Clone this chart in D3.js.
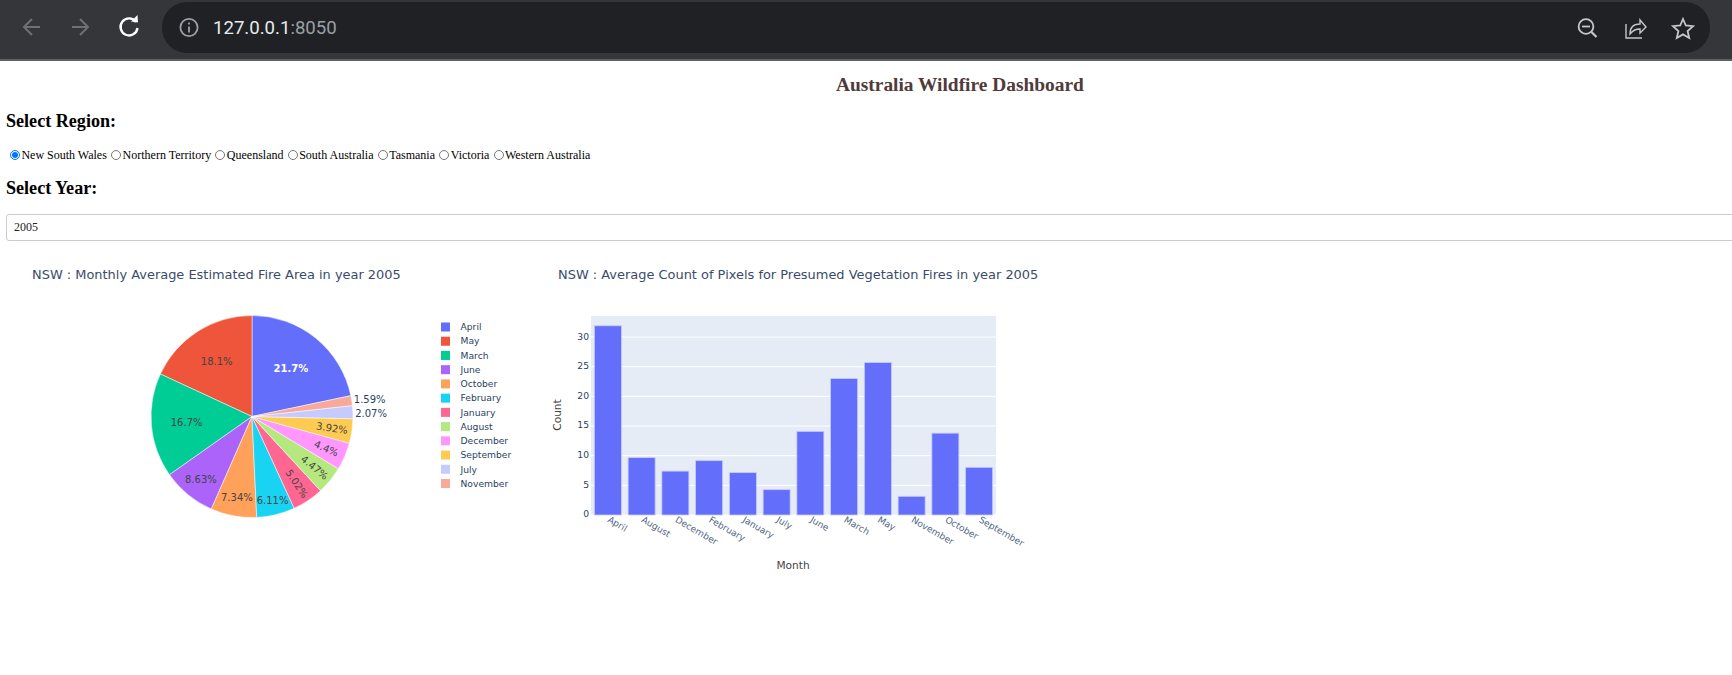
<!DOCTYPE html>
<html lang="en">
<head>
<meta charset="UTF-8">
<title>Australia Wildfire Dashboard</title>
<script src="https://d3js.org/d3.v7.min.js"></script>
<style>
  html, body { margin: 0; padding: 0; background: #fff; width: 1732px; height: 675px; overflow: hidden; }
  body { font-family: "Liberation Serif", serif; position: relative; }
  #browser { position: absolute; left: 0; top: 0; }
  h1, h3 { position: absolute; margin: 0; white-space: nowrap; }
  h1 { left: 836px; top: 74px; font-size: 19.4px; line-height: 22px; color: #503a3a; }
  h3 { left: 6px; font-size: 18.1px; line-height: 20px; color: #000; }
  #regions { position: absolute; left: 9px; top: 147px; font-size: 12px; line-height: 16px; white-space: nowrap; display: flex; align-items: center; }
  #regions label { display: flex; align-items: center; margin-right: 3.3px; }
  #regions input { width: 10px; height: 10px; margin: 0 1.4px 0 1px; }
  #year { position: absolute; left: 6px; top: 214px; width: 1800px; height: 27px; border: 1px solid #ccc; border-radius: 3px; box-sizing: border-box; padding-left: 7px; font: 12px "Liberation Serif", serif; color: #222; line-height: 24px; }
  #charts { position: absolute; left: 0; top: 0; }
  #charts text { font-family: "DejaVu Sans", Verdana, sans-serif; }
</style>
</head>
<body>
<svg id="browser" width="1732" height="62"></svg>
<h1>Australia Wildfire Dashboard</h1>
<h3 style="top:111px">Select Region:</h3>
<div id="regions"></div>
<h3 style="top:178px">Select Year:</h3>
<div id="year"></div>
<svg id="charts" width="1732" height="675"></svg>

<script>
  // page controls
  var regions = ['New South Wales', 'Northern Territory', 'Queensland', 'South Australia', 'Tasmania', 'Victoria', 'Western Australia'];
  var selectedYear = '2005';

  // pie chart, legend order
  var pieMonths = ['April', 'May', 'March', 'June', 'October', 'February', 'January', 'August', 'December', 'September', 'July', 'November'];
  var pieShares = [21.7, 18.1, 16.7, 8.63, 7.34, 6.11, 5.02, 4.47, 4.4, 3.92, 2.07, 1.59];
  var pieColors = ['#636efa', '#ef553b', '#00cc96', '#ab63fa', '#ffa15a', '#19d3f3', '#ff6692', '#b6e880', '#ff97ff', '#fecb52', '#c6cbff', '#f9a99c'];

  // bar chart
  var barMonths = ['April', 'August', 'December', 'February', 'January', 'July', 'June', 'March', 'May', 'November', 'October', 'September'];
  var barCounts = [31.9, 9.67, 7.4, 9.16, 7.14, 4.27, 14.1, 23.0, 25.7, 3.15, 13.8, 8.04];
  var countTicks = [0, 5, 10, 15, 20, 25, 30];

  var pieTitle = 'NSW : Monthly Average Estimated Fire Area in year 2005';
  var barTitle = 'NSW : Average Count of Pixels for Presumed Vegetation Fires in year 2005';

  // browser chrome around the page
  function drawBrowser() {
    var svg = d3.select('#browser');
    svg.append('rect').attr('width', 1732).attr('height', 59).attr('fill', '#35363a');
    svg.append('rect').attr('y', 59).attr('width', 1732).attr('height', 2).attr('fill', '#5f6064');
    svg.append('rect').attr('x', 162).attr('y', 2).attr('width', 1548).attr('height', 51).attr('rx', 25).attr('fill', '#202124');

    var line = function(d, color, w, dx) {
      svg.append('path').attr('d', d).attr('fill', 'none').attr('stroke', color).attr('stroke-width', w || 2)
        .attr('transform', 'translate(' + (dx || 0) + ',0)');
    };
    line('M36 27H21M28 19l-8 8 8 8', '#6f7073', 2, 4);
    line('M61 27H76M69 19l8 8-8 8', '#6f7073', 2, 11);
    line('M117 22a8.5 8.5 0 1 0 1.5 6', '#ffffff', 2.4, 19);
    svg.append('path').attr('d', 'M131 21.5L138 22.5L137.5 15Z').attr('fill', '#fff');
    svg.append('circle').attr('cx', 189).attr('cy', 27.5).attr('r', 8.6).attr('fill', 'none').attr('stroke', '#9aa0a6').attr('stroke-width', 1.8);
    line('M189 26.5V32.5M189 22.5V24.6', '#9aa0a6', 1.8);

    var url = svg.append('text').attr('x', 213).attr('y', 34).attr('font-family', 'Roboto, sans-serif').attr('font-size', 18.6);
    url.append('tspan').attr('fill', '#e8eaed').text('127.0.0.1');
    url.append('tspan').attr('fill', '#9aa0a6').text(':8050');

    svg.append('circle').attr('cx', 1586).attr('cy', 26.5).attr('r', 7.4).attr('fill', 'none').attr('stroke', '#c4c7c9').attr('stroke-width', 1.8);
    line('M1582 26.5H1590', '#c4c7c9', 1.8);
    line('M1591.5 32L1596.5 37', '#c4c7c9', 2.2);
    line('M1618 24V38H1634', '#c4c7c9', 1.4, 8);
    line('M1622 34C1622 27 1626 24 1632 24V20L1638 27L1632 33V29C1628 29 1625 30 1622 34Z', '#c4c7c9', 1.4, 8);
    line('M1674 19L1676.8 25.5L1684 26.2L1678.6 31L1680.2 38L1674 34.4L1667.8 38L1669.4 31L1664 26.2L1671.2 25.5Z', '#c4c7c9', 1.8, 9);
  }

  function drawControls() {
    var labels = d3.select('#regions').selectAll('label').data(regions).enter().append('label');
    labels.append('input').attr('type', 'radio').attr('name', 'region').property('checked', function(d, i) { return i === 0; });
    labels.append('span').text(function(d) { return d; });
    d3.select('#year').text(selectedYear);
  }

  function drawPie(svg) {
    var radius = 101;
    var g = svg.append('g').attr('transform', 'translate(252,416.5)');
    var total = d3.sum(pieShares);
    var start = 2 * Math.PI * pieShares[0] / total;

    // first slice ends at 12 o'clock, the rest run counter-clockwise from there
    var pie = d3.pie().sort(null).startAngle(start).endAngle(start - 2 * Math.PI);
    var arcs = pie(pieShares);
    var arc = d3.arc().innerRadius(0).outerRadius(radius);

    g.selectAll('path').data(arcs).enter().append('path')
      .attr('d', arc)
      .attr('fill', function(d, i) { return pieColors[i]; })
      .attr('stroke', '#fff')
      .attr('stroke-width', 0.5);

    var fmt = d3.format('.3~r');
    g.selectAll('text').data(arcs).enter().append('text')
      .attr('text-anchor', 'middle')
      .attr('dy', '0.35em')
      .attr('font-size', 10)
      .attr('font-weight', function(d, i) { return i === 0 ? 700 : 400; })
      .attr('fill', function(d, i) { return i === 0 ? '#fff' : (d.value < 3 ? '#2a3f5f' : '#444'); })
      .attr('transform', function(d) {
        var mid = (d.startAngle + d.endAngle) / 2;
        var r = radius * 0.8;
        if (d.value > 20) r = radius * 0.61;
        else if (d.value > 15) r = radius * 0.65;
        else if (d.value > 7 && d.value < 8) r = radius * 0.82;
        else if (d.value > 6 && d.value < 7) r = radius * 0.86;
        else if (d.value < 3) r = radius * 1.18;
        var x = Math.sin(mid) * r;
        var y = -Math.cos(mid) * r + (d.value < 3 ? 2 : 0);
        // the narrow inside slices get their label turned along the radius
        var rot = (d.value > 3 && d.value < 5.5) ? mid * 180 / Math.PI - 90 : 0;
        return 'translate(' + x + ',' + y + ') rotate(' + rot + ')';
      })
      .text(function(d) { return fmt(d.value) + '%'; });

    var legendY = d3.scalePoint().domain(pieMonths).range([327, 483.5]);
    var legend = svg.append('g').selectAll('g').data(pieMonths).enter().append('g')
      .attr('transform', function(d) { return 'translate(441,' + legendY(d) + ')'; });
    legend.append('rect').attr('y', -4.5).attr('width', 9).attr('height', 9)
      .attr('fill', function(d, i) { return pieColors[i]; });
    legend.append('text').attr('x', 19.5).attr('dy', '0.35em')
      .attr('font-size', 9.2).attr('fill', '#2a3f5f')
      .text(function(d) { return d; });

    svg.append('text').attr('x', 32).attr('y', 279).attr('font-size', 12.95).attr('fill', '#3a4c69').text(pieTitle);
  }

  function drawBars(svg) {
    var x = d3.scaleBand().domain(barMonths).range([591, 996]).paddingInner(0.2).paddingOuter(0.1);
    var y = d3.scaleLinear().domain([0, 33.55]).range([515, 316]);

    svg.append('rect').attr('x', 591).attr('y', 316).attr('width', 405).attr('height', 199).attr('fill', '#e5ecf6');

    svg.append('g').selectAll('line').data(countTicks).enter().append('line')
      .attr('x1', 591).attr('x2', 996)
      .attr('y1', function(d) { return y(d); }).attr('y2', function(d) { return y(d); })
      .attr('stroke', '#fff').attr('stroke-width', 1);

    svg.append('g').selectAll('rect').data(barCounts).enter().append('rect')
      .attr('x', function(d, i) { return x(barMonths[i]); })
      .attr('y', function(d) { return y(d); })
      .attr('width', x.bandwidth())
      .attr('height', function(d) { return y(0) - y(d); })
      .attr('fill', '#636efa')
      .attr('stroke', '#c6cbff')
      .attr('stroke-width', 0.8);

    var yAxis = svg.append('g').attr('transform', 'translate(591,-1)')
      .call(d3.axisLeft(y).tickValues(countTicks).tickSize(0).tickPadding(2));
    yAxis.select('.domain').remove();
    yAxis.selectAll('text').attr('font-size', 9.2).attr('fill', '#2a3f5f');

    var xAxis = svg.append('g').attr('transform', 'translate(0,515)')
      .call(d3.axisBottom(x).tickSize(0));
    xAxis.select('.domain').remove();
    xAxis.selectAll('text')
      .attr('font-size', 9.1)
      .attr('fill', '#506784')
      .attr('text-anchor', 'start')
      .attr('x', 0).attr('y', 0).attr('dy', 0)
      .attr('transform', 'translate(-1,6.5) rotate(30)');

    svg.append('text').attr('x', 793).attr('y', 569).attr('text-anchor', 'middle')
      .attr('font-size', 10.6).attr('fill', '#444').text('Month');
    svg.append('text').attr('transform', 'translate(561,415) rotate(-90)').attr('text-anchor', 'middle')
      .attr('font-size', 10.6).attr('fill', '#444').text('Count');

    svg.append('text').attr('x', 558).attr('y', 279).attr('font-size', 12.95).attr('fill', '#3a4c69').text(barTitle);
  }

  drawBrowser();
  drawControls();
  var charts = d3.select('#charts');
  drawPie(charts);
  drawBars(charts);
</script>
</body>
</html>
